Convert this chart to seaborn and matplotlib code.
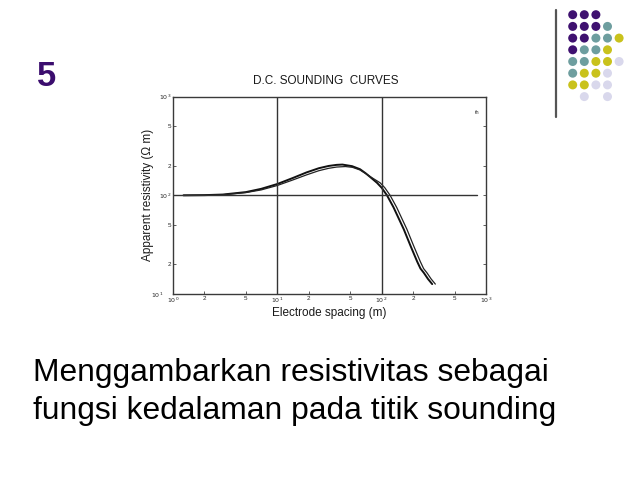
import numpy as np
import pandas as pd
import matplotlib
matplotlib.use("Agg")
import matplotlib.pyplot as plt
import matplotlib.ticker as mticker
import seaborn as sns

sns.set_style("white")
plt.rcParams['font.family'] = ['Liberation Sans', 'DejaVu Sans']

# sounding curves (spacing in m, resistivity in ohm m)
spacing_a = [1.26, 2, 3, 5, 7, 10, 14, 19, 25, 31, 37, 42, 52, 62, 70, 77.8, 90.2, 100,
             112.5, 130, 163, 189, 219, 235.5, 253.5, 278, 305]
rho_a = [100, 100.5, 101.9, 107.9, 116.4, 130.3, 149.6, 170.6, 188.4, 198.6, 203.7, 205.1,
         197.7, 184.1, 167.9, 153.1, 134.0, 119.4, 100, 75.5, 45.2, 30.8, 21.3, 18.1, 16.4,
         14.2, 12.6]
spacing_b = [1.26, 2, 3, 5, 7, 10, 14, 19, 25, 31, 37, 45, 52.5, 61.7, 70, 79, 96.7, 107.2,
             120.5, 139.3, 174.7, 202.5, 234.7, 252.3, 271.6, 298, 327]
rho_b = [100, 100.2, 101.4, 106.7, 113.5, 125.9, 142.9, 161.1, 177.8, 187.9, 193.6, 195.9,
         192.3, 181.1, 166.7, 153.1, 134.0, 119.4, 100, 75.5, 45.2, 30.8, 21.3, 18.1, 16.4,
         14.2, 12.6]

x_major = [1, 10, 100, 1000]
x_major_labels = ['$10^0$', '$10^1$', '$10^2$', '$10^3$']
y_major = [10, 100, 1000]
y_major_labels = ['$10^1$', '$10^2$', '$10^3$']
minor_mult = [2, 5]

# slide decoration: dot grid (row, col, colour key)
dot_rows = [0, 0, 0, 1, 1, 1, 1, 2, 2, 2, 2, 2, 3, 3, 3, 3, 4, 4, 4, 4, 4, 5, 5, 5, 5, 6, 6, 6, 6, 7, 7]
dot_cols = [0, 1, 2, 0, 1, 2, 3, 0, 1, 2, 3, 4, 0, 1, 2, 3, 0, 1, 2, 3, 4, 0, 1, 2, 3, 0, 1, 2, 3, 1, 3]
dot_keys = ['P', 'P', 'P', 'P', 'P', 'P', 'T', 'P', 'P', 'T', 'T', 'Y', 'P', 'T', 'T', 'Y',
            'T', 'T', 'Y', 'Y', 'L', 'T', 'Y', 'Y', 'L', 'Y', 'Y', 'L', 'L', 'L', 'L']
dot_colors = {'P': '#3f1170', 'T': '#6e9e9f', 'Y': '#c9c21c', 'L': '#d9d8ec'}

df = pd.concat([
    pd.DataFrame({'spacing': spacing_a, 'rho': rho_a, 'curve': 'A'}),
    pd.DataFrame({'spacing': spacing_b, 'rho': rho_b, 'curve': 'B'}),
], ignore_index=True)

W, H = 638, 478
fig = plt.figure(figsize=(W / 100, H / 100), dpi=100)
fig.patch.set_facecolor('white')

ax = fig.add_axes([173 / W, 1 - 294 / H, (486 - 173) / W, (294 - 96.7) / H])
sns.lineplot(data=df, x='spacing', y='rho', hue='curve', size='curve',
             palette={'A': '#111111', 'B': '#222222'}, sizes={'A': 1.4, 'B': 0.9},
             legend=False, ax=ax, sort=False)
ax.set_xscale('log')
ax.set_yscale('log')
ax.set_xlim(1, 1000)
ax.set_ylim(10, 1000)

# grid lines of the original chart
ax.axvline(10, color='#333333', lw=1.0)
ax.axvline(100, color='#333333', lw=1.0)
ax.axhline(100, xmax=0.97, color='#333333', lw=1.0)

for sp in ax.spines.values():
    sp.set_color('#3a3a3a')
    sp.set_linewidth(1.0)

ax.xaxis.set_major_locator(mticker.FixedLocator(x_major))
ax.xaxis.set_major_formatter(mticker.FixedFormatter(x_major_labels))
xm = [m * d for d in x_major[:-1] for m in minor_mult]
ax.xaxis.set_minor_locator(mticker.FixedLocator(xm))
ax.xaxis.set_minor_formatter(mticker.FixedFormatter([str(m) for d in x_major[:-1] for m in minor_mult]))
ax.yaxis.set_major_locator(mticker.FixedLocator(y_major))
ax.yaxis.set_major_formatter(mticker.FixedFormatter(y_major_labels))
ym = [m * d for d in y_major[:-1] for m in minor_mult]
ax.yaxis.set_minor_locator(mticker.FixedLocator(ym))
ax.yaxis.set_minor_formatter(mticker.FixedFormatter([str(m) for d in y_major[:-1] for m in minor_mult]))
ax.tick_params(which='both', labelsize=4.5, length=2, width=0.6, color='#444444',
               direction='in', right=True, bottom=True, left=True)
ax.tick_params(axis='x', which='both', pad=1.5)
ax.tick_params(axis='y', which='both', pad=1.5)
# bottom-left corner label sits further out, as in the scan
ax.yaxis.get_major_ticks()[0].set_pad(7)

ax.set_xlabel('Electrode spacing (m)', fontsize=8.5, labelpad=1, color='#1a1a1a')
ax.set_ylabel('Apparent resistivity (\u03a9 m)', fontsize=8.5, labelpad=-2.5, color='#1a1a1a')
ax.text(0.965, 0.91, 'th', transform=ax.transAxes, fontsize=4, color='#333333')
fig.text(326 / W, 1 - 81.5 / H, 'D.C. SOUNDING  CURVES', ha='center', va='center',
         fontsize=8.5, color='#1a1a1a')

# slide furniture
over = fig.add_axes([0, 0, 1, 1], zorder=-1)
over.set_xlim(0, W)
over.set_ylim(H, 0)
over.axis('off')
over.scatter([572.7 + 11.6 * c for c in dot_cols], [14.7 + 11.7 * r for r in dot_rows],
             s=42, c=[dot_colors[k] for k in dot_keys], linewidths=0)
over.plot([555.7, 555.7], [10, 117], color='#555555', lw=1.6)
over.text(37, 76, '5', fontsize=25, fontweight='bold', color='#3b0d6e', va='center', ha='left')
over.text(33, 381, 'Menggambarkan resistivitas sebagai', fontsize=22.9, color='black',
          va='baseline', ha='left')
over.text(33, 419, 'fungsi kedalaman pada titik sounding', fontsize=22.9, color='black',
          va='baseline', ha='left')

fig.savefig('out.png', dpi=100, facecolor='white')
